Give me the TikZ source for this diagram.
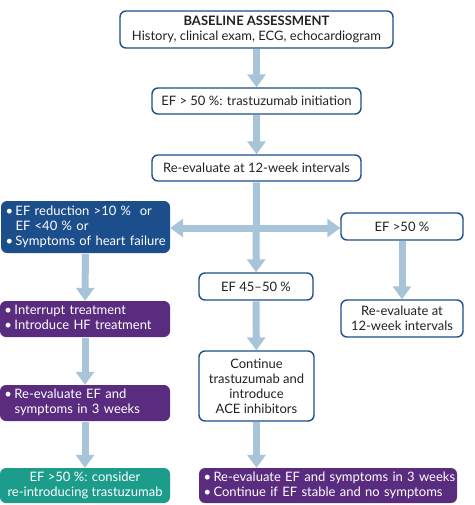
\documentclass[tikz,border=0pt]{standalone}
\usepackage{fontspec}
\setmainfont{Lato}
\usetikzlibrary{arrows.meta}
\definecolor{bordb}{HTML}{1D4F8A}
\definecolor{fillb}{HTML}{1C4E8C}
\definecolor{purp}{HTML}{5A2C80}
\definecolor{teal2}{HTML}{1C9C8A}
\definecolor{arrc}{HTML}{A7C4D8}
\definecolor{txt}{HTML}{222222}
\newcommand{\bul}{\makebox[10pt][l]{•}}
\newcommand{\ind}{\hspace*{10pt}}
\newcommand{\lines}[1]{\begin{tabular}{@{}l@{}}#1\end{tabular}}
\begin{document}
\begin{tikzpicture}[x=1pt,y=-1pt,
  every node/.style={inner sep=0pt, font=\fontsize{13}{15}\selectfont},
  wbox/.style={draw=bordb, line width=1.4pt, rounded corners=6pt, fill=white, align=center, text=txt},
  fbox/.style={rounded corners=6pt, text=white, inner xsep=4.5pt, align=left},
  arr/.style={draw=arrc, line width=7pt, shorten <=0.7pt, -{Triangle[width=18pt,length=13pt]}}
]
\useasboundingbox (0,0) rectangle (474,505);
% white boxes
\node[wbox, minimum width=273pt, minimum height=37pt] (base) at (256.5,29.5)
  {\textbf{BASELINE ASSESSMENT}\\History, clinical exam, ECG, echocardiogram};
\node[wbox, minimum width=209pt, minimum height=26pt] (init) at (256.5,101)
  {EF > 50 \%: trastuzumab initiation};
\node[wbox, minimum width=209pt, minimum height=26pt] (reev) at (256.5,168)
  {Re-evaluate at 12-week intervals};
\node[wbox, minimum width=122pt, minimum height=27pt] (efr) at (402,226.5)
  {EF >50 \%};
\node[wbox, minimum width=114pt, minimum height=27pt] (ef45) at (256,286.5)
  {EF 45–50 \%};
\node[wbox, minimum width=122pt, minimum height=37pt] (reevr) at (402,318.5)
  {Re-evaluate at\\12-week intervals};
\node[wbox, minimum width=115pt, minimum height=70pt] (cont) at (256.5,386)
  {Continue\\trastuzumab and\\introduce\\ACE inhibitors};
% filled boxes
\node[fbox, fill=fillb, text width=160pt, minimum height=52pt] (lbox) at (85.5,227)
  {\lines{\bul EF reduction >10 \%\ \ or\\\ind EF <40 \% or\\\bul Symptoms of heart failure}};
\node[fbox, fill=purp, text width=161pt, minimum height=36pt] (intr) at (85,319)
  {\lines{\bul Interrupt treatment\\\bul Introduce HF treatment}};
\node[fbox, fill=purp, text width=161pt, minimum height=36pt] (reev3) at (85,403)
  {\lines{\bul Re-evaluate EF and\\\ind symptoms in 3 weeks}};
\node[fbox, fill=teal2, minimum width=170pt, minimum height=35pt, align=center] (tealb) at (85,485.5)
  {EF >50 \%: consider\\re-introducing trastuzumab};
\node[fbox, fill=purp, text width=249pt, minimum height=35pt] (pbot) at (328,485.5)
  {\lines{\bul Re-evaluate EF and symptoms in 3 weeks\\\bul Continue if EF stable and no symptoms}};
% connectors
\coordinate (j) at (256.5,228);
\draw[arr] (base) -- (init);
\draw[arr] (init) -- (reev);
\draw[arr] (reev) -- (ef45);
\draw[arr] (j) -- (j -| lbox.east);
\draw[arr] (j) -- (j -| efr.west);
\draw[arr] (efr) -- (reevr);
\draw[arr] (ef45) -- (cont);
\draw[arr] (cont) -- (cont |- pbot.north);
\draw[arr] (lbox) -- (intr);
\draw[arr] (intr) -- (reev3);
\draw[arr] (reev3) -- (tealb);
\end{tikzpicture}
\end{document}
